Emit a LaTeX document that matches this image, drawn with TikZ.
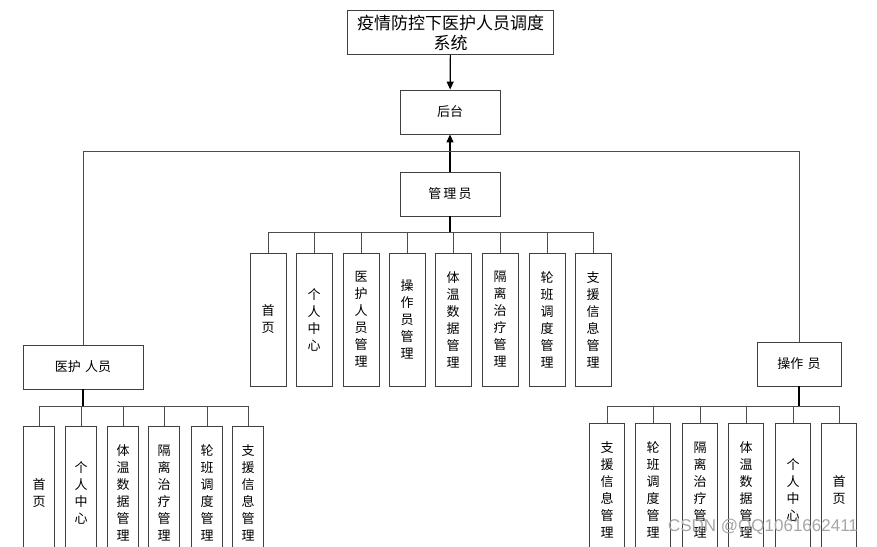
\documentclass[tikz,border=0pt]{standalone}
\usepackage{fontspec}
\newfontfamily\cjk{Noto Sans CJK SC}
\setsansfont{Liberation Sans}
\usetikzlibrary{arrows.meta}
\tikzset{
  box/.style={draw=black!75, line width=0.9pt, fill=white, rectangle, inner sep=0pt, font=\cjk\fontsize{13}{17}\selectfont, align=center},
  leaf/.style={box, minimum width=#1, minimum height=133pt},
  link/.style={draw=black!70, line width=0.8pt},
  stem/.style={draw=black, line width=1.4pt},
  arr/.style={draw=black, line width=1.2pt, -{Triangle[length=8pt,width=7pt]}}
}
\begin{document}
\begin{tikzpicture}[x=1pt,y=-1pt]
\useasboundingbox (0,0) rectangle (877,546);
\clip (0,0) rectangle (877,546);
% top
\node[box, minimum width=206pt, minimum height=44pt, font=\cjk\fontsize{17}{20}\selectfont] (title) at (450.5,32.5) {疫情防控下医护人员调度\\系统};
\node[box, minimum width=100pt, minimum height=44pt] (ht) at (450,112) {后台};
\node[box, minimum width=100pt, minimum height=44pt] (adm) at (450,194) {管\,理\,员};
\node[box, minimum width=120pt, minimum height=44pt] (yh) at (83,367) {医护\,\,人员};
\node[box, minimum width=84pt, minimum height=44pt] (czy) at (799,364) {操作\,\,员};
\draw[arr] (title) -- (ht);
\draw[arr] (adm) -- (ht);
\coordinate (hb) at (450,151);
\draw[link] (yh.north) |- (hb);
\draw[link] (czy.north) |- (hb);
% admin children
\coordinate (abus) at (450,232);
\foreach \n/\x/\t in {a1/268/首\\页, a2/314/个\\人\\中\\心, a3/361/医\\护\\人\\员\\管\\理, a4/407/操\\作\\员\\管\\理, a5/453/体\\温\\数\\据\\管\\理, a6/500/隔\\离\\治\\疗\\管\\理, a7/547/轮\\班\\调\\度\\管\\理, a8/593/支\\援\\信\\息\\管\\理}{
  \node[leaf=36pt] (\n) at (\x,319.5) {\t};
  \draw[link] (\n.north) |- (abus);
}
\draw[stem] (adm) -- (abus);
% medical staff children
\coordinate (ybus) at (83,406);
\foreach \n/\x/\t in {b1/39/首\\页, b2/81/个\\人\\中\\心, b3/123/体\\温\\数\\据\\管\\理, b4/164/隔\\离\\治\\疗\\管\\理, b5/207/轮\\班\\调\\度\\管\\理, b6/248/支\\援\\信\\息\\管\\理}{
  \node[leaf=31pt] (\n) at (\x,493) {\t};
  \draw[link] (\n.north) |- (ybus);
}
\draw[stem] (yh) -- (ybus);
% operator children
\coordinate (cbus) at (799,406);
\foreach \n/\x/\t in {c1/607/支\\援\\信\\息\\管\\理, c2/653/轮\\班\\调\\度\\管\\理, c3/700/隔\\离\\治\\疗\\管\\理, c4/746/体\\温\\数\\据\\管\\理, c5/793/个\\人\\中\\心, c6/839/首\\页}{
  \node[leaf=35pt] (\n) at (\x,490) {\t};
  \draw[link] (\n.north) |- (cbus);
}
\draw[stem] (czy) -- (cbus);
% watermark
\node[text=black!35, font=\sffamily\fontsize{17}{17}\selectfont, inner sep=0pt] (wm) at (763,527) {CSDN @QQ1061662411};
\end{tikzpicture}
\end{document}
